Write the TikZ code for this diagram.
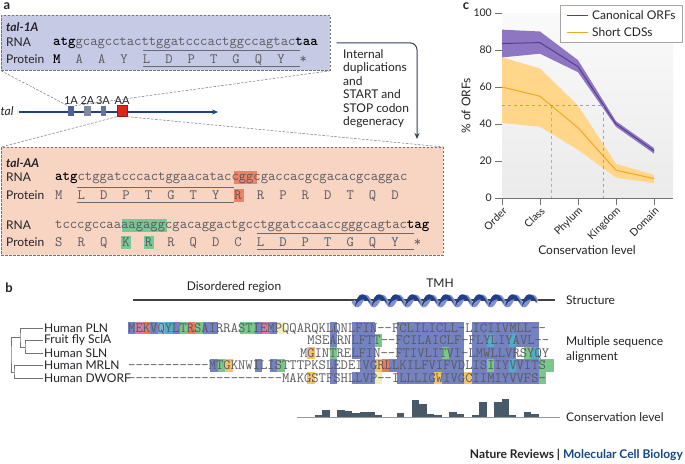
\documentclass[tikz,border=0pt]{standalone}
\usepackage{fontspec}
\setmainfont{Lato}
\usetikzlibrary{positioning,arrows.meta}

\definecolor{boxblue}{RGB}{199,202,229}
\definecolor{boxpeach}{RGB}{248,212,194}
\definecolor{boxedge}{RGB}{112,116,128}
\definecolor{txt}{RGB}{35,35,40}
\definecolor{seqgray}{RGB}{90,90,96}
\definecolor{rulegray}{RGB}{105,105,115}
\definecolor{flowcol}{RGB}{50,64,80}
\definecolor{trackblue}{RGB}{28,66,128}
\definecolor{ex1}{RGB}{78,98,148}
\definecolor{ex2}{RGB}{128,138,158}
\definecolor{ex3}{RGB}{104,118,146}
\definecolor{exAA}{RGB}{224,38,28}
\definecolor{hlred}{RGB}{236,130,105}
\definecolor{hlgreen}{RGB}{118,200,148}
\definecolor{cb}{RGB}{116,130,194}
\definecolor{cg}{RGB}{124,198,140}
\definecolor{co}{RGB}{246,196,104}
\definecolor{cr}{RGB}{232,124,92}
\definecolor{cp}{RGB}{214,124,166}
\definecolor{ct}{RGB}{78,174,200}
\definecolor{cq}{RGB}{122,178,214}
\definecolor{cy}{RGB}{243,238,182}
\definecolor{consbar}{RGB}{72,90,104}
\definecolor{canon}{RGB}{88,62,146}
\definecolor{canonband}{RGB}{142,118,194}
\definecolor{short}{RGB}{240,168,36}
\definecolor{shortband}{RGB}{255,214,138}
\definecolor{dashgray}{RGB}{160,160,178}
\definecolor{helixdark}{RGB}{34,62,138}
\definecolor{helixlight}{RGB}{128,146,200}
\definecolor{nrblue}{RGB}{22,70,136}

\newcommand\seqfont{\fontsize{14.23}{16}\selectfont\ttfamily}
\newcommand\gp{-\kern0pt}
\newcommand\gaps[1]{\foreach\gi in {1,...,#1}{\gp}}
\def\cw{7.47}

\tikzstyle{panel}=[font=\bfseries\fontsize{13}{15}\selectfont, inner sep=0]
\tikzstyle{lbl}=[anchor=west, inner sep=0]
\tikzstyle{tallbl}=[anchor=west, inner sep=0, font=\bfseries\itshape\fontsize{12}{14}\selectfont]
\tikzstyle{seq}=[anchor=base west, inner sep=0, font=\seqfont, text=seqgray]
\tikzstyle{seqbox}=[draw=boxedge, dash pattern=on 2.5pt off 1.5pt, line width=.7pt,
  anchor=north west, inner sep=0]
\tikzstyle{zoomline}=[draw=boxedge, dash pattern=on 2.5pt off 1.5pt, line width=.5pt]
\tikzstyle{seqrule}=[draw=rulegray, line width=.7pt]
\tikzstyle{exon}=[inner sep=0, minimum height=10pt]
\tikzstyle{exlbl}=[inner sep=0, font=\fontsize{11}{13}\selectfont]
\tikzstyle{track}=[draw=trackblue, line width=1.1pt, -{Stealth[length=6pt,width=5pt]}]
\tikzstyle{flow}=[draw=flowcol, line width=1pt, -{Stealth[length=6pt,width=5pt]}]
\tikzstyle{axis}=[draw=black!55, line width=.6pt]
\tikzstyle{ticklbl}=[inner sep=0, font=\fontsize{10.5}{12}\selectfont]
\tikzstyle{canonline}=[draw=canon, line width=1pt]
\tikzstyle{shortline}=[draw=short, line width=1pt]
\tikzstyle{taxon}=[anchor=west, inner sep=1pt]
\tikzstyle{tree}=[draw=black!55, line width=.5pt]

\begin{document}
\begin{tikzpicture}[x=1pt, y=-1pt, font=\fontsize{12}{14}\selectfont, text=txt,
  declare function={vy(\v)=198-1.85*\v;}]
\useasboundingbox (0,0) rectangle (685,463);
\fill[white] (0,0) rectangle (685,463);

% a
\node[panel] (pa) at (7,6) {a};
\node[seqbox, fill=boxblue, minimum width=329pt, minimum height=55pt] (box1A) at (1,15) {};
\node[tallbl] (t1A) at (6,27) {tal-1A};
\node[lbl] (rna1) at (6,42.5) {RNA};
\node[lbl] (prot1) at (6,59.5) {Protein};
\node[seq] (s1) at (53,45.5) {\textcolor{black}{\bfseries atg}gcagcctacttggatcccactggccagtac\textcolor{black}{\bfseries taa}};
\node[seq, text=black, font=\seqfont\bfseries] (p1-0) at (53,63.8) {M};
\foreach \p [count=\k] in {A,A,Y,L,D,P,T,G,Q,Y,*}
  \node[seq] (p1-\k) at ({53+3*\k*\cw},63.8) {\p};
\draw[seqrule] ({53+12*\cw},50.5) -- ({53+33*\cw},50.5);
\draw[seqrule] ({53+12*\cw},66) -- ({53+33*\cw},66);

\node[inner sep=0, font=\itshape\fontsize{12}{14}\selectfont] (tal) at (7,111) {tal};
\coordinate (talstart) at (19,112);
\coordinate (talend) at (218,112);
\draw[track] (talstart) -- (talend);
\node[exon, fill=ex1, minimum width=6pt] (ex1A) at (71,111) {};
\node[exon, fill=ex2, minimum width=7pt] (ex2A) at (87.5,111) {};
\node[exon, fill=ex3, minimum width=5pt] (ex3A) at (103,111) {};
\node[exon, fill=exAA, draw=exAA!70!black, line width=.4pt, minimum width=10pt, minimum height=11pt] (exAA) at (122,111) {};
\node[exlbl, above=1.5pt of ex1A] (l1A) {1A};
\node[exlbl, above=1.5pt of ex2A] (l2A) {2A};
\node[exlbl, above=1.5pt of ex3A] (l3A) {3A};
\node[exlbl, above=1pt of exAA] (lAA) {AA};

\node[seqbox, fill=boxpeach, minimum width=442pt, minimum height=108pt] (boxAA) at (1,147) {};
\draw[zoomline] (box1A.south west) -- (ex1A.north west);
\draw[zoomline] (box1A.south east) -- (ex1A.north east);
\draw[zoomline] (exAA.south west) -- (boxAA.north west);
\draw[zoomline] (exAA.south east) -- (boxAA.north east);

\coordinate (flowend) at (417,139);
\draw[flow, rounded corners=7pt] ([xshift=6pt]box1A.east) -| (flowend);
\node[anchor=north west, inner sep=0, align=left, font=\fontsize{12}{13.5}\selectfont] (dup) at (343,49)
  {Internal\\duplications\\and\\START and\\STOP codon\\degeneracy};

\node[tallbl] (tAA) at (6,163) {tal-AA};
\node[lbl] (rna2) at (6,177) {RNA};
\node[lbl] (prot2) at (6,195) {Protein};
\node[lbl] (rna3) at (6,225) {RNA};
\node[lbl] (prot3) at (6,242) {Protein};
\fill[hlred] ({55+24*\cw},170.5) rectangle ({55+27*\cw},184);
\fill[hlred] (233.5,188.5) rectangle (243.5,201.5);
\fill[hlgreen] ({55+9*\cw},218.5) rectangle ({55+15*\cw},232);
\fill[hlgreen] (121,235.5) rectangle (131,248.5);
\fill[hlgreen] (143.5,235.5) rectangle (153.5,248.5);
\node[seq] (s2) at (55,180) {\textcolor{black}{\bfseries atg}ctggatcccactggaacataccggcgaccacgcgacacgcaggac};
\node[seq] (s3) at (55,228) {tcccgccaaaagaggcgacaggactgcctggatccaaccgggcagtac\textcolor{black}{\bfseries tag}};
\foreach \p [count=\k from 0] in {M,L,D,P,T,G,T,Y,R,R,P,R,D,T,Q,D}
  \node[seq] (p2-\k) at ({55+3*\k*\cw},199.3) {\p};
\foreach \p [count=\k from 0] in {S,R,Q,K,R,R,Q,D,C,L,D,P,T,G,Q,Y,*}
  \node[seq] (p3-\k) at ({55+3*\k*\cw},246.3) {\p};
\draw[seqrule] ({55+3*\cw},187) -- ({55+24*\cw},187);
\draw[seqrule] ({55+3*\cw},202.5) -- ({55+24*\cw},202.5);
\draw[seqrule] ({55+27*\cw},233) -- ({55+48*\cw},233);
\draw[seqrule] ({55+27*\cw},249) -- ({55+48*\cw},249);

% c
\node[panel] (pc) at (466,6) {c};
\shade[top color=black!2, bottom color=black!8] (502,13) rectangle (673,198);
\fill[shortband] (502,{vy(76)}) -- (540,{vy(70)}) -- (578,{vy(50)}) -- (616,{vy(18.5)}) -- (654,{vy(12.5)})
  -- (654,{vy(8)}) -- (616,{vy(11)}) -- (578,{vy(26)}) -- (540,{vy(38.5)}) -- (502,{vy(40.5)}) -- cycle;
\fill[canonband] (502,{vy(91)}) -- (540,{vy(90)}) -- (578,{vy(74.5)}) -- (616,{vy(41.5)}) -- (654,{vy(27)})
  -- (654,{vy(24)}) -- (616,{vy(38.5)}) -- (578,{vy(68)}) -- (540,{vy(78)}) -- (502,{vy(76)}) -- cycle;
\draw[shortline] (502,{vy(60)}) -- (540,{vy(55)}) -- (578,{vy(38)}) -- (616,{vy(15)}) -- (654,{vy(10.5)});
\draw[canonline] (502,{vy(83.5)}) -- (540,{vy(84)}) -- (578,{vy(71)}) -- (616,{vy(40)}) -- (654,{vy(25.5)});
\draw[dashgray, dashed, line width=.8pt] (502,{vy(50)}) -- (603.7,{vy(50)}) -- (603.7,198);
\draw[short, dashed, line width=.8pt] (551.2,{vy(50)}) -- (551.2,198);
\draw[axis] (495,198) -- (673,198);
\foreach \v in {0,20,...,100} {
  \draw[axis] (495,{vy(\v)}) -- (502,{vy(\v)});
  \node[ticklbl, anchor=east] (yt\v) at (492,{vy(\v)}) {\v};
}
\foreach \n [count=\i from 0] in {Order,Class,Phylum,Kingdom,Domain} {
  \draw[axis] ({502+38*\i},198) -- ({502+38*\i},205);
  \node[ticklbl, rotate=45, anchor=east] (xt\i) at ({505+38*\i},209) {\n};
}
\node[rotate=90] (ylab) at (466,106) {\% of ORFs};
\node (xlab) at (587,250) {Conservation level};
\node[draw=black!35, fill=white, line width=.5pt, minimum width=122pt, minimum height=37pt,
  anchor=north west, inner sep=0] (leg) at (560,5) {};
\node[anchor=west, inner sep=0] (legcan) at (592,15) {Canonical ORFs};
\node[anchor=west, inner sep=0] (legshort) at (592,32) {Short CDSs};
\draw[canonline] ([xshift=-4pt]legcan.west) -- ++(-21,0);
\draw[shortline] ([xshift=-4pt]legshort.west) -- ++(-21,0);

% b
\node[panel] (pb) at (9,288) {b};
\node (disord) at (234,287) {Disordered region};
\node (tmh) at (440,283) {TMH};
\coordinate (strL) at (133,300);
\coordinate (strR) at (555,300);
\draw[black!75, line width=1.8pt] (strL) -- (strR);
\draw[helixlight, line width=3.6pt] plot[domain=0:184, samples=160] ({353+\x},{301+4.5*sin(\x/16.7*360)});
\foreach \i in {0,...,10}
  \fill[helixdark] ({355+\i*16.7},306.5) .. controls ({357+\i*16.7},291) and ({366+\i*16.7},290.5)
    .. ({370.5+\i*16.7},303.5) .. controls ({366+\i*16.7},297.5) and ({360+\i*16.7},297.5) .. cycle;
\node[lbl] (struct) at (566,300) {Structure};

\node[taxon] (pln) at (43,328) {Human PLN};
\node[taxon] (scla) at (43,340.5) {Fruit fly SclA};
\node[taxon] (sln) at (43,353) {Human SLN};
\node[taxon] (mrln) at (43,365.5) {Human MRLN};
\node[taxon] (dworf) at (43,378) {Human DWORF};
\coordinate (nSS) at (25,346.75);
\coordinate (nTop) at (20,337.4);
\coordinate (nBot) at (14,371.75);
\coordinate (nRoot) at (11,354.6);
\draw[tree] (scla.west) -| (nSS) |- (sln.west);
\draw[tree] (pln.west) -| (nTop) |- (nSS);
\draw[tree] (mrln.west) -| (nBot) |- (dworf.west);
\draw[tree] (nTop) -| (nRoot) |- (nBot);

\foreach \s/\e/\c in {0/0/cb,1/1/cp,2/2/cr,3/3/cb,4/4/cq,5/5/ct,6/6/cb,7/7/cg,8/8/cr,9/9/cg,10/11/cb,
  15/16/cg,17/17/cb,18/18/cp,19/19/cb,20/20/cy,27/27/cb,30/32/cb,36/44/cb,46/54/cb}
  \fill[\c] ({128+\s*\cw},321.8) rectangle ({128+(\e+1)*\cw},334.2);
\foreach \s/\e/\c in {27/27/cb,30/32/cb,33/33/cg,36/44/cb,46/47/cb,48/48/ct,49/50/cb,51/51/ct,52/54/cb}
  \fill[\c] ({128+\s*\cw},334.3) rectangle ({128+(\e+1)*\cw},346.7);
\foreach \s/\e/\c in {24/24/co,27/27/cg,30/32/cb,36/41/cb,42/42/cg,43/44/cb,46/51/cb,53/53/cg,54/54/ct}
  \fill[\c] ({128+\s*\cw},346.8) rectangle ({128+(\e+1)*\cw},359.2);
\foreach \s/\e/\c in {11/11/cb,12/12/cg,13/13/co,17/17/cb,19/19/cb,20/20/cg,27/27/cb,31/32/cb,33/33/co,
  34/34/cr,35/44/cb,46/47/cb,48/48/cg,49/50/cb,51/51/ct,52/54/cb,55/56/cg}
  \fill[\c] ({128+\s*\cw},359.3) rectangle ({128+(\e+1)*\cw},371.7);
\foreach \s/\e/\c in {24/24/co,27/27/cb,30/32/cb,33/33/cy,36/40/cb,41/41/co,42/44/cb,45/45/co,46/54/cb,55/55/cg}
  \fill[\c] ({128+\s*\cw},371.8) rectangle ({128+(\e+1)*\cw},384.2);

\node[seq] (aPLN) at (128,332.3) {MEKVQYLTRSAIRRASTIEMPQQARQKLQNLFIN\gp\gp FCLILICLL\gp LICIIVMLL\gp\gp};
\node[seq] (aSclA) at ({128+24*\cw},344.8) {MSEARNLFTT\gp\gp FCILAICLF\gp FLYLIYAVL\gp\gp};
\node[seq] (aSLN) at ({128+23*\cw},357.3) {MGINTRELFIN\gp\gp FTIVLITVI\gp LMWLLVRSYQY};
\node[seq] (aMRLN) at (128,369.8) {\gaps{11}MTGKNWILISTTTPKSLEDEIVGRLLKILFVIFVDLISIIYVVITS};
\node[seq] (aDWORF) at (128,382.3) {\gaps{21}MAKGSTFSHLLVP\gp\gp ILLLIGWIVGCIIMIYVVFS\gp};
\node[lbl, align=left, font=\fontsize{12}{15}\selectfont] (msa) at (566,350) {Multiple sequence\\alignment};

\coordinate (consL) at (297,417);
\coordinate (consR) at (560,417);
\draw[black!40, line width=.8pt] (consL) -- (consR);
\foreach \c/\h in {25/1.7,26/7.3,28/6.7,29/6,30/4,31/5,32/5,33/1.7,36/4,38/17,39/13,40/3,41/1.7,
  43/5,44/3.5,46/1.7,47/15,49/15,50/18,51/1.7,53/5,54/3.5}
  \fill[consbar] ({128+\c*\cw},417) rectangle ({128+(\c+1)*\cw},{417-\h});
\node[lbl] (conslbl) at (566,417) {Conservation level};

\node[anchor=east, inner sep=0, font=\bfseries\fontsize{12}{14}\selectfont] (nrmcb) at (683,455)
  {Nature Reviews | \textcolor{nrblue}{Molecular Cell Biology}};
\end{tikzpicture}
\end{document}
